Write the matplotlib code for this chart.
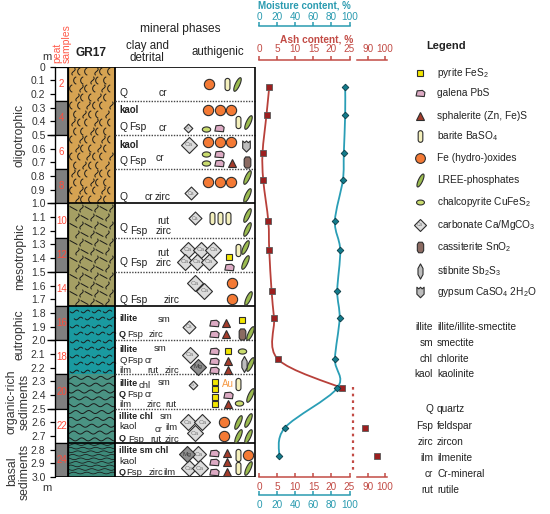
import numpy as np
import matplotlib
matplotlib.use('Agg')
import matplotlib.pyplot as plt
from matplotlib.path import Path
from matplotlib.patches import Rectangle, PathPatch

plt.rcParams['font.family'] = ['Liberation Sans', 'DejaVu Sans']
plt.rcParams['mathtext.fontset'] = 'custom'
plt.rcParams['mathtext.rm'] = 'Liberation Sans'
plt.rcParams['mathtext.default'] = 'regular'

# ---------------- data ----------------
sample_depth = [0.15, 0.35, 0.63, 0.83, 1.13, 1.34, 1.64, 1.84, 2.14, 2.35, 2.64, 2.85]
ash = [2.75, 2.0, 0.9, 1.1, 2.5, 2.75, 3.4, 4.1, 5.2, 22.9, 88.0, 95.0]
moisture = [95.2, 95.2, 93.7, 92.6, 83.8, 89.7, 86.4, 89.0, 83.8, 86.4, 28.3, 22.0]

sample_ids = ['2', '4', '6', '8', '10', '12', '14', '16', '18', '20', '22', '24']
sample_top = [0, 0.25, 0.5, 0.75, 1.0, 1.25, 1.5, 1.75, 2.0, 2.25, 2.5, 2.75]

layer_top = [0.0, 1.0, 1.75, 2.25, 2.75]
layer_bot = [1.0, 1.75, 2.25, 2.75, 3.0]
layer_color = ['#D6A352', '#A59F64', '#1A9AA0', '#4A9383', '#3D8A7A']
layer_texture = ['arc', 'dash', 'tilde', 'wave', 'fine']

zone_names = ['oligotrophic', 'mesotrophic', 'eutrophic', 'organic-rich\nsediments', 'basal\nsediments']
zone_mid = [0.5, 1.39, 1.96, 2.45, 2.96]

solid_bounds = [1.0, 1.75, 2.75]
dotted_bounds = [0.25, 0.5, 0.75, 1.25, 1.5, 2.0, 2.25, 2.5]

ash_ticks = [0, 5, 10, 15, 20, 25]
ash_ticks_hi = [90, 100]
moist_ticks = [0, 20, 40, 60, 80, 100]

# clay and detrital phases: (x, depth, label, bold)
box_text = [
    (119, 0.194, 'Q', False), (158.3, 0.194, 'cr', False),
    (119, 0.317, 'kaol', True), (119, 0.439, 'Q', False), (129, 0.439, 'Fsp', False), (158.3, 0.445, 'cr', False),
    (119, 0.572, 'kaol', True), (119, 0.687, 'Q', False), (129, 0.687, 'Fsp', False), (155.7, 0.667, 'cr', False),
    (119, 0.950, 'Q', False), (144.3, 0.950, 'cr', False), (155, 0.950, 'zirc', False),
    (119, 1.181, 'Q', False), (130, 1.201, 'Fsp', False), (157.7, 1.126, 'rut', False), (155.7, 1.201, 'zirc', False),
    (119, 1.425, 'Q', False), (130, 1.435, 'Fsp', False), (157.7, 1.364, 'rut', False), (155.7, 1.435, 'zirc', False),
    (119, 1.705, 'Q', False), (130, 1.705, 'Fsp', False), (163.3, 1.705, 'zirc', False),
    (119, 1.844, 'illite', True), (157.7, 1.852, 'sm', False), (119, 1.961, 'Q', True), (127.7, 1.961, 'Fsp', False),
    (149, 1.961, 'zirc', False),
    (119, 2.066, 'illite', True), (153.3, 2.060, 'sm', False), (119, 2.147, 'Q', False), (127.7, 2.147, 'Fsp', False),
    (145, 2.147, 'cr', False), (119, 2.222, 'ilm', False), (147.7, 2.222, 'rut', False), (164.3, 2.222, 'zirc', False),
    (119, 2.316, 'illite', True), (139, 2.330, 'chl', False), (157.7, 2.306, 'sm', False), (119, 2.398, 'Q', True),
    (127.7, 2.398, 'Fsp', False), (145, 2.398, 'cr', False), (119, 2.470, 'ilm', False), (146.7, 2.470, 'zirc', False),
    (165, 2.470, 'rut', False),
    (119, 2.555, 'illite chl', True), (160, 2.555, 'sm', False), (119, 2.634, 'kaol', False), (154.3, 2.650, 'cr', False),
    (165, 2.637, 'ilm', False), (119, 2.716, 'Q', True), (128.3, 2.724, 'Fsp', False), (150, 2.724, 'rut', False),
    (165, 2.724, 'zirc', False),
    (119, 2.807, 'illite sm chl', True), (119, 2.887, 'kaol', False), (119, 2.965, 'Q', True), (126.7, 2.965, 'Fsp', False),
    (148.3, 2.965, 'zirc', False), (163.3, 2.965, 'ilm', False),
]

# authigenic phases: (x, depth)
pyrite_pos = [(229, 1.393), (241.7, 1.852), (227.7, 2.078), (215, 2.307), (215, 2.356), (215, 2.412), (215, 2.468)]
galena_pos = [(219.3, 0.446), (219.3, 0.638), (219.3, 0.702), (229, 1.466), (214.3, 1.876), (214.3, 1.956),
              (214.3, 2.078), (214.3, 2.151), (214.3, 2.219), (228.3, 2.400), (214.3, 2.826), (214.3, 2.892),
              (214.3, 2.961)]
sphal_pos = [(232.3, 0.702), (226, 1.876), (226, 1.956), (227.7, 2.151), (227.7, 2.219), (228.3, 2.468),
             (226.7, 2.826), (226.7, 2.892), (226.7, 2.961)]
barite_pos = [(227.3, 0.126), (238.3, 0.406), (211.7, 1.108), (220, 1.108), (228.3, 1.108), (238.3, 1.340),
              (238.3, 2.322), (237.7, 2.839), (237.7, 2.936)]
fe_pos = [(209, 0.126), (208.3, 0.317), (220, 0.317), (231, 0.317), (208.3, 0.548), (220, 0.548), (231, 0.548),
          (208.3, 0.841), (220, 0.841), (231, 0.841), (232.3, 1.583), (232.3, 1.700), (224.3, 2.599),
          (224.3, 2.700), (248.3, 2.839)]
lree_pos = [(237.3, 0.126), (248.3, 0.406), (246.7, 0.804), (246.7, 0.938), (247.3, 1.084), (247.3, 1.189),
            (245, 1.316), (245, 1.425), (248.3, 1.693), (250, 1.944), (250, 2.175), (250, 2.400), (237.7, 2.599),
            (237.7, 2.700), (248.3, 2.583), (248.3, 2.700), (248.3, 2.936)]
ccp_pos = [(205.7, 0.458), (205.7, 0.638), (205.7, 0.702), (241.7, 2.078), (239, 2.461)]
carb_big = [(189, 0.572), (187.7, 1.340), (201, 1.340), (213.3, 1.340), (185, 1.425), (196.7, 1.425), (209, 1.425),
            (195, 1.583), (204.3, 1.637), (190, 2.107), (187.7, 2.599), (202.3, 2.599), (195, 2.680),
            (198.3, 2.833), (189, 2.936), (200, 2.936)]
carb_mid = [(191, 0.925), (195, 1.108), (189, 1.901)]
carb_small = [(187.7, 0.446), (193.3, 2.327)]
mg_pos = [(197.7, 2.193), (186.7, 2.833)]
cst_pos = [(247.3, 0.697), (241.7, 1.956)]
stb_pos = [(244.3, 2.175)]
gyp_pos = [(245.7, 0.580)]

legend_labels = ['pyrite FeS$_2$', 'galena PbS', 'sphalerite (Zn, Fe)S', 'barite BaSO$_4$', 'Fe (hydro-)oxides',
                 'LREE-phosphates', 'chalcopyrite CuFeS$_2$', 'carbonate Ca/MgCO$_3$', 'cassiterite SnO$_2$',
                 'stibnite Sb$_2$S$_3$', 'gypsum CaSO$_4$ 2H$_2$O']
legend_keys = ['py', 'gn', 'sp', 'ba', 'fe', 'lree', 'ccp', 'cb', 'cst', 'stb', 'gyp']
legend_depth = [0.047, 0.19, 0.36, 0.51, 0.667, 0.828, 0.987, 1.157, 1.316, 1.491, 1.645]

abbrevs = ['illite', 'sm', 'chl', 'kaol', 'Q', 'Fsp', 'zirc', 'ilm', 'cr', 'rut']
abbrev_names = ['illite/illite-smectite', 'smectite', 'chlorite', 'kaolinite', 'quartz', 'feldspar', 'zircon',
                'ilmenite', 'Cr-mineral', 'rutile']
abbrev_depth = [1.901, 2.020, 2.137, 2.249, 2.502, 2.626, 2.743, 2.858, 2.977, 3.094]

# ---------------- shapes ----------------
def ellipse(a, b, rot=0, n=40):
    t = np.linspace(0, 2 * np.pi, n)
    x, y = a * np.cos(t), b * np.sin(t)
    r = np.deg2rad(rot)
    return Path(np.column_stack([x * np.cos(r) - y * np.sin(r), x * np.sin(r) + y * np.cos(r)]), closed=True)

t = np.linspace(0, np.pi, 15)
stadium = Path(np.vstack([np.column_stack([0.4 * np.cos(t), 0.6 + 0.4 * np.sin(t)]),
                          np.column_stack([-0.4 * np.cos(t), -0.6 - 0.4 * np.sin(t)]),
                          [[0.4, 0.6]]]), closed=True)
galena_m = Path([(-1, -0.55), (0.85, -0.7), (1, 0.25), (0.45, 0.7), (-0.75, 0.6), (-1, -0.55)], closed=True)
diamond_m = Path([(0, 1), (1, 0), (0, -1), (-1, 0), (0, 1)], closed=True)
cst_m = Path([(-0.35, 1), (0.35, 1), (0.6, 0.6), (0.6, -0.6), (0.35, -1), (-0.35, -1), (-0.6, -0.6), (-0.6, 0.6),
              (-0.35, 1)], closed=True)
stb_m = Path([(0, 1), (0.33, 0.4), (0.33, -0.4), (0, -1), (-0.33, -0.4), (-0.33, 0.4), (0, 1)], closed=True)
gyp_m = Path([(-0.65, 0.95), (-0.3, 0.65), (0, 0.95), (0.3, 0.65), (0.65, 0.95), (0.65, -0.3), (0, -0.95),
              (-0.65, -0.3), (-0.65, 0.95)], closed=True)

EC = '#2E2E2E'
style = {
    'py': dict(marker='s', ms=4.0, mfc='#F2E600'),
    'gn': dict(marker=galena_m, ms=6.7, mfc='#DCAAC3'),
    'sp': dict(marker='^', ms=6.4, mfc='#A53C2B'),
    'ba': dict(marker=stadium, ms=8.8, mfc='#F4F0BC'),
    'fe': dict(marker='o', ms=7.4, mfc='#F47A35'),
    'lree': dict(marker=ellipse(1, 0.3, 65), ms=9.8, mfc='#9BBB50'),
    'ccp': dict(marker=ellipse(1, 0.62), ms=6.0, mfc='#C9DB6E'),
    'cb': dict(marker=diamond_m, ms=11.5, mfc='#DCDCDC'),
    'mg': dict(marker=diamond_m, ms=11.5, mfc='#8F8F8F'),
    'cst': dict(marker=cst_m, ms=8.0, mfc='#8B6B62'),
    'stb': dict(marker=stb_m, ms=11.5, mfc='#BDBDBD'),
    'gyp': dict(marker=gyp_m, ms=8.0, mfc='#BDBDBD'),
}

def draw(axis, key, pos, ms=None, z=4):
    kw = dict(style[key])
    if ms is not None:
        kw['ms'] = ms
    xs = [p[0] for p in pos]
    ys = [p[1] for p in pos]
    axis.plot(xs, ys, ls='none', mec=EC, mew=0.8, zorder=z, clip_on=False, **kw)
    if key in ('cb', 'mg'):
        lab, col = ('Ca', '#7A7A7A') if key == 'cb' else ('Mg', '#3A3A3A')
        fs = 4.6 * kw['ms'] / 11.5
        for x, y in pos:
            axis.text(x, y, lab, fontsize=fs, color=col, ha='center', va='center', zorder=z + 0.1)

def smooth_path(xs, ys):
    pts = np.column_stack([xs, ys]).astype(float)
    n = len(pts)
    verts, codes = [pts[0]], [Path.MOVETO]
    for i in range(n - 1):
        p0, p1, p2, p3 = pts[max(i - 1, 0)], pts[i], pts[i + 1], pts[min(i + 2, n - 1)]
        verts += [p1 + (p2 - p0) / 6, p2 - (p3 - p1) / 6, p2]
        codes += [Path.CURVE4] * 3
    return Path(verts, codes)

# ---------------- figure ----------------
fig = plt.figure(figsize=(5.5, 5.14), dpi=100)
B = 37 / 514
H = (477 - 66.7) / 514

ax = fig.add_axes([0, B, 1, H])
ax.set_xlim(0, 550)
ax.set_ylim(3, 0)
ax.axis('off')

# depth axis
axd = fig.add_axes([55 / 550, B, 0.002, H])
axd.set_ylim(3, 0)
axd.set_xticks([])
axd.patch.set_visible(False)
for s in ['top', 'right', 'bottom']:
    axd.spines[s].set_visible(False)
dticks = np.round(np.arange(0, 3.01, 0.1), 1)
axd.set_yticks(dticks)
axd.set_yticklabels(['0' if v == 0 else f'{v:.1f}' for v in dticks], fontsize=7.5, color='#333333')
axd.tick_params(axis='y', length=3.6, width=0.9, pad=3.2)
ax.hlines([0.5, 1.0, 1.5, 2.0, 2.5], 47, 55, color='k', lw=1.0)
ax.text(47, -0.07, 'm', fontsize=8, ha='center', va='center', color='#333333')
ax.text(47, 3.08, 'm', fontsize=8, ha='center', va='center', color='#333333')

# sample column
for i, (top, sid) in enumerate(zip(sample_top, sample_ids)):
    ax.add_patch(Rectangle((55, top), 13, 0.25, fc='#7F7F7F' if i % 2 else 'white', ec='k', lw=0.9, zorder=2))
    ax.text(61.5, top + 0.125, sid, fontsize=7, color='#FF4B3A', ha='center', va='center', zorder=3)
ax.text(62, -0.025, 'peat\nsamples', rotation=90, fontsize=7.5, color='#FF5A4A', ha='center', va='bottom',
        multialignment='left', linespacing=0.95)

# GR17 column
arc_m = Path(np.column_stack([np.cos(np.linspace(1.9, 4.4, 12)), np.sin(np.linspace(1.9, 4.4, 12))]))
tt = np.linspace(-1, 1, 15)
s_m = Path(np.column_stack([0.3 * np.sin(np.pi * tt) + 0.25 * tt, tt]))
dash_m = Path([(-1, 0.55), (1, -0.55)])
tilde_m = Path(np.column_stack([tt, 0.3 * np.sin(np.pi * tt)]))
for top, bot, col, tex in zip(layer_top, layer_bot, layer_color, layer_texture):
    ax.add_patch(Rectangle((68, top), 47, bot - top, fc=col, ec='none', zorder=1))
    if tex in ('arc', 'dash', 'tilde'):
        step = 0.062 if tex != 'tilde' else 0.055
        cols = [73, 80.5, 88, 95.5, 103, 110.5] if tex != 'tilde' else [74, 85, 96, 107]
        rows = np.arange(top + 0.035, bot - 0.02, step)
        for j, r in enumerate(rows):
            off = 3.7 if j % 2 else 0
            for k, cx in enumerate(cols):
                x = cx + off
                if x > 113:
                    continue
                if tex == 'arc':
                    m = arc_m if (j + k) % 3 else s_m
                    ms = 5.5
                elif tex == 'dash':
                    m = dash_m if (j + k) % 2 == 0 else s_m
                    ms = 5.5
                else:
                    m, ms = tilde_m, 6.5
                ax.plot([x], [r], ls='none', marker=m, ms=ms, mfc='none', mec='#1A1A1A', mew=0.7, zorder=2)
    else:
        step, amp, lw = (0.05, 0.011, 0.7) if tex == 'wave' else (0.026, 0.006, 0.55)
        xx = np.linspace(68.5, 114.5, 80)
        for j, r in enumerate(np.arange(top + step / 2, bot - 0.005, step)):
            ax.plot(xx, r + amp * np.sin(2 * np.pi * (xx + 5 * j) / 13), color='#1A1A1A', lw=lw, zorder=2)
ax.vlines([68, 115], 0, 3, color='k', lw=1.3, zorder=3)
ax.hlines(0, 68, 255, color='k', lw=1.2, zorder=3)
ax.hlines(3, 55, 255, color='k', lw=1.2, zorder=3)
ax.hlines(solid_bounds, 68, 255, color='k', lw=1.2, zorder=3)
ax.hlines(dotted_bounds, 115, 255, color='#444444', lw=1.0, linestyles=(0, (1, 1)), zorder=3)
ax.vlines(255, 0, 3, color='k', lw=1.2, zorder=3)

# zone labels
for name, mid in zip(zone_names, zone_mid):
    ax.text(18 if '\n' in name else 20, mid, name, rotation=90, fontsize=8.8, ha='center', va='center',
            color='#333333', linespacing=1.05)

# headers
ax.text(180, -0.276, 'mineral phases', fontsize=8.6, ha='center', va='center', color='#222222')
ax.text(147, -0.107, 'clay and\ndetrital', fontsize=8.3, ha='center', va='center', color='#222222',
        linespacing=1.0)
ax.text(218, -0.107, 'authigenic', fontsize=8.3, ha='center', va='center', color='#222222')
ax.text(91, -0.1, 'GR17', fontsize=8.6, fontweight='bold', ha='center', va='center', color='#222222')

# box contents
for x, d, s, bold in box_text:
    crowded = d > 1.75
    fs = (6.5 if bold else 6.8) if crowded else (6.9 if bold else 7.4)
    ax.text(x, d, s, fontsize=fs, fontweight='bold' if bold else 'normal', ha='left', va='center',
            color='#222222', zorder=3)
draw(ax, 'cb', carb_big)
draw(ax, 'cb', carb_mid, ms=9.3)
draw(ax, 'cb', carb_small, ms=6.2)
draw(ax, 'mg', mg_pos)
draw(ax, 'py', pyrite_pos)
draw(ax, 'gn', galena_pos)
draw(ax, 'sp', sphal_pos)
draw(ax, 'ba', barite_pos)
draw(ax, 'fe', fe_pos)
draw(ax, 'lree', lree_pos)
draw(ax, 'ccp', ccp_pos)
draw(ax, 'cst', cst_pos)
draw(ax, 'stb', stb_pos)
draw(ax, 'gyp', gyp_pos)
ax.text(228.3, 2.322, 'Au', fontsize=7, color='#F59A45', ha='center', va='center', zorder=5)

# legend
ax.text(426.7, -0.151, 'Legend', fontsize=8, fontweight='bold', ha='left', va='center', color='#222222')
for key, lab, d in zip(legend_keys, legend_labels, legend_depth):
    draw(ax, key, [(420, d)], ms=style[key]['ms'] * (0.75 if key == 'cb' else 0.95))
    ax.text(436.7, d, lab, fontsize=7.3, ha='left', va='center', color='#222222')
for ab, nm, d in zip(abbrevs, abbrev_names, abbrev_depth):
    ax.text(433, d, ab, fontsize=7.3, ha='right', va='center', color='#222222')
    ax.text(437, d, nm, fontsize=7.3, ha='left', va='center', color='#222222')

# ---------------- ash / moisture profiles ----------------
RED = '#C24B45'
TEAL = '#2A9BB0'

def scale_axis(left, right, xlim, ticks, color, side, offset, direction, pad, length=3):
    a = fig.add_axes([left / 550, B, (right - left) / 550, H])
    a.set_xlim(*xlim)
    a.set_ylim(3, 0)
    a.patch.set_visible(False)
    for s in ['left', 'right', 'top', 'bottom']:
        a.spines[s].set_visible(s == side)
    a.spines[side].set_position(('outward', offset))
    a.spines[side].set_color(color)
    a.spines[side].set_linewidth(1.1)
    a.set_yticks([])
    a.set_xticks(ticks)
    a.xaxis.set_ticks_position(side)
    a.xaxis.set_label_position(side)
    a.tick_params(axis='x', colors=color, labelsize=7.2, length=length, width=1.1, direction=direction, pad=pad)
    return a

axa = scale_axis(259.3, 349.5, (0, 25), ash_ticks, RED, 'top', 4.8, 'out', 1.5)
scale_axis(259.3, 349.5, (0, 25), ash_ticks, RED, 'bottom', 0, 'in', 3.6)
axk = scale_axis(357.3, 386.7, (83.4, 101), ash_ticks_hi, RED, 'top', 4.8, 'out', 1.5)
scale_axis(357.3, 386.7, (83.4, 101), ash_ticks_hi, RED, 'bottom', 0, 'in', 3.6)
axm = scale_axis(259.3, 349.5, (0, 100), moist_ticks, TEAL, 'top', 29.3, 'out', 0.5, length=2.6)
scale_axis(259.3, 349.5, (0, 100), moist_ticks, TEAL, 'bottom', 13.2, 'in', 3.3)

main = [i for i, v in enumerate(ash) if v <= 25]
high = [i for i, v in enumerate(ash) if v > 25]
axa.add_patch(PathPatch(smooth_path([ash[i] for i in main], [sample_depth[i] for i in main]),
                        fill=False, ec='#B8403A', lw=1.3, zorder=2))
axa.plot([ash[i] for i in main], [sample_depth[i] for i in main], ls='none', marker='s', ms=4.8,
         mfc='#9C1F1F', mec='#5A5A5A', mew=0.6, zorder=3)
axk.plot([ash[i] for i in high], [sample_depth[i] for i in high], ls='none', marker='s', ms=4.8,
         mfc='#9C1F1F', mec='#5A5A5A', mew=0.6, zorder=3, clip_on=False)
axa.plot([25.9, 25.9], [2.34, 2.97], ls=(0, (1.2, 1.8)), color='#C24B45', lw=1.6, clip_on=False)

axm.add_patch(PathPatch(smooth_path(moisture, sample_depth), fill=False, ec='#2A9EB6', lw=1.3, zorder=2))
axm.plot(moisture, sample_depth, ls='none', marker='D', ms=3.4, mfc='#137C8C', mec='#0A3A44', mew=0.6, zorder=3)

ax.text(304, -0.4845, 'Moisture content, %', fontsize=7.0, fontweight='bold', color=TEAL, ha='center',
        va='top')
ax.text(316.7, -0.2, 'Ash content, %', fontsize=7.3, fontweight='bold', color=RED, ha='center', va='center')

fig.savefig('out.png', dpi=100)
